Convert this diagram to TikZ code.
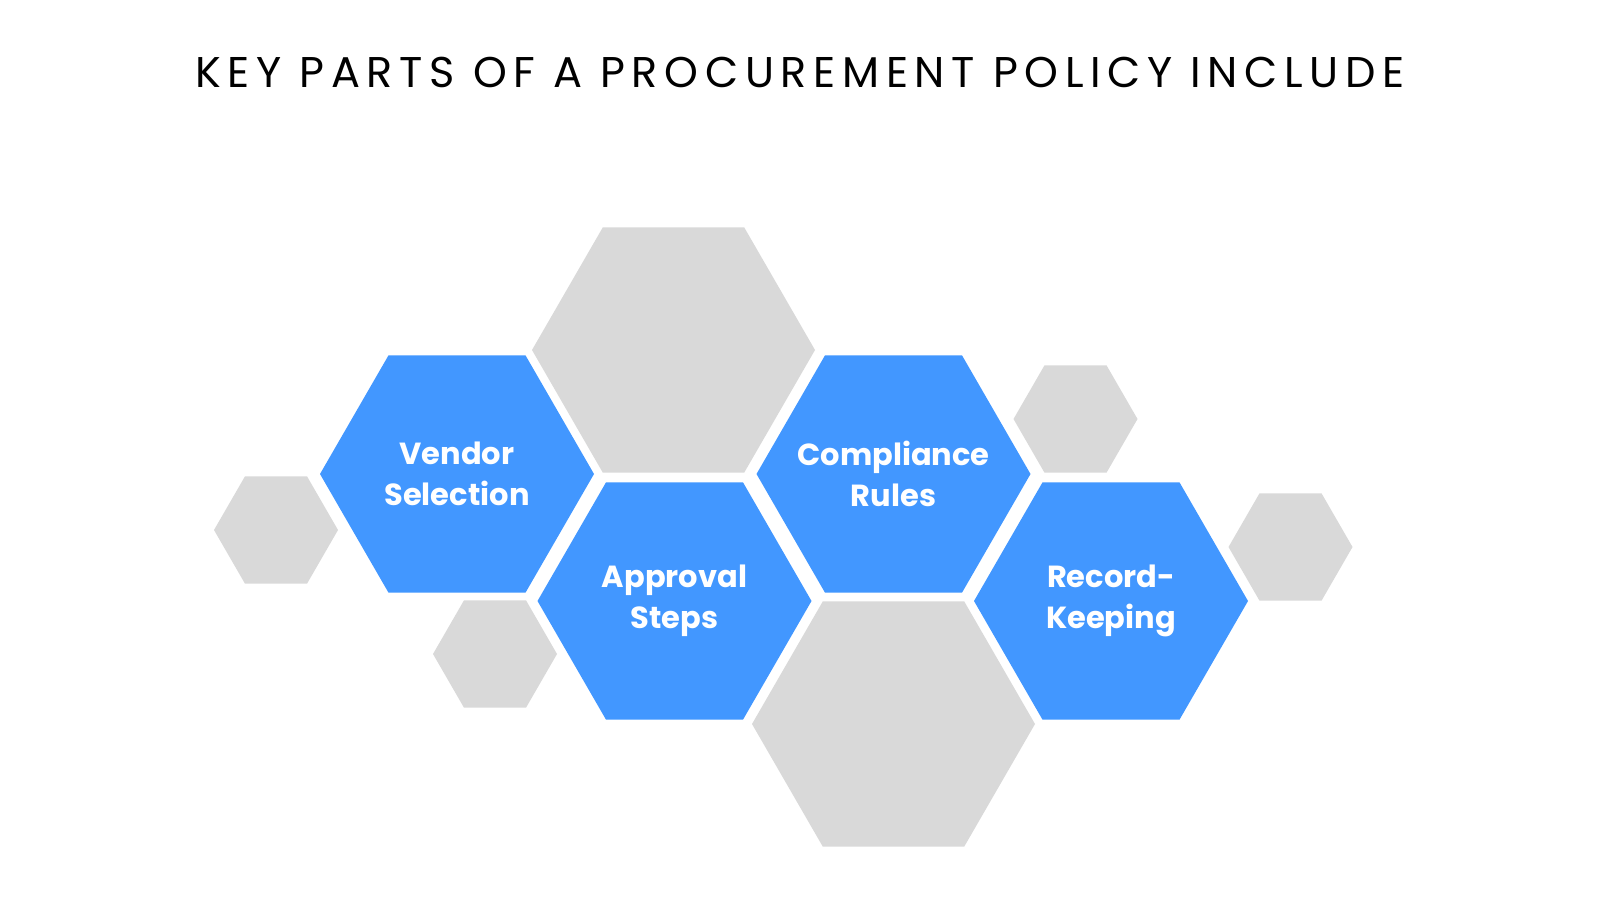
\documentclass[tikz,border=0pt]{standalone}
\usepackage{fontspec}
\setmainfont{Poppins}
\newfontfamily\titlefont[LetterSpace=15.5]{Poppins}
\usetikzlibrary{shapes.geometric}
\definecolor{hexblue}{RGB}{66,151,255}
\definecolor{hexgray}{RGB}{217,217,217}
\tikzset{
  hexbase/.style={regular polygon, regular polygon sides=6, draw=none, inner sep=0pt, outer sep=0pt},
  hexb/.style={hexbase, fill=hexblue, minimum size=274pt},
  hexg/.style={hexbase, fill=hexgray, minimum size=283pt},
  hexs/.style={hexbase, fill=hexgray, minimum size=124pt},
  lbl/.style={text=white, align=center, font=\bfseries\fontsize{30.5}{41}\selectfont, inner sep=0pt},
  ttl/.style={text=black, font=\titlefont\fontsize{43}{50}\selectfont, inner sep=0pt, anchor=base}
}
\begin{document}
\begin{tikzpicture}[x=1pt,y=-1pt]
\useasboundingbox[fill=white] (0,0) rectangle (1600,900);
\node[ttl] (title) at (800,87) {KEY PARTS OF A PROCUREMENT POLICY INCLUDE};
% gray hexagons
\node[hexg] (g1) at (673.5,350) {};
\node[hexg] (g2) at (893.5,724) {};
\node[hexs] (s1) at (276,530) {};
\node[hexs] (s2) at (495,654) {};
\node[hexs] (s3) at (1075.5,419) {};
\node[hexs] (s4) at (1290.5,547) {};
% blue hexagons
\node[hexb] (h1) at (457,474) {};
\node[hexb] (h2) at (674.5,601) {};
\node[hexb] (h3) at (893.5,474) {};
\node[hexb] (h4) at (1111,601) {};
\node[lbl] (t1) at (h1) {Vendor\\Selection};
\node[lbl] (t2) at (h2) {Approval\\Steps};
\node[lbl] (t3) at (h3) {Compliance\\Rules};
\node[lbl] (t4) at (h4) {Record-\\Keeping};
\end{tikzpicture}
\end{document}
